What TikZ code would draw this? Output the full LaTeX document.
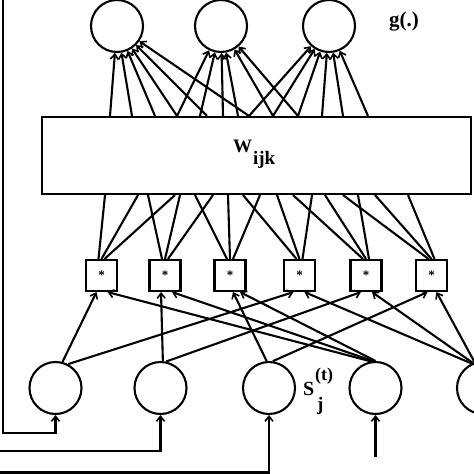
\documentclass[tikz,border=0pt]{standalone}
\usepackage{fontspec}
\setmainfont{Liberation Serif}
\usetikzlibrary{arrows.meta,calc}
\begin{document}
\begin{tikzpicture}[x=1pt,y=-1pt,line width=2.1pt,
  neuron/.style={circle,draw,minimum size=52pt,inner sep=0pt},
  mult/.style={rectangle,draw,minimum size=31pt,inner sep=0pt,font=\fontsize{13}{13}\selectfont\bfseries},
  wbox/.style={rectangle,draw,minimum width=429pt,minimum height=77pt,inner sep=0pt},
  arr/.style={-{Straight Barb[length=5pt,width=8pt,line width=1.6pt]}},
  lbl/.style={font=\fontsize{19}{19}\selectfont\bfseries,inner sep=0pt,anchor=base west}]
\useasboundingbox (0,0) rectangle (474,474);
\clip (0,0) rectangle (474,474);

% weight box
\node[wbox] (W) at (256.5,155.5) {};
% output neurons
\node[neuron] (c1) at (117,26) {};
\node[neuron] (c2) at (221,26) {};
\node[neuron] (c3) at (329,26) {};
% product units
\node[mult] (m1) at (101.5,275.5) {*};
\node[mult] (m2) at (165,275.5) {*};
\node[mult] (m3) at (230,275.5) {*};
\node[mult] (m4) at (299.5,275.5) {*};
\node[mult] (m5) at (366,275.5) {*};
\node[mult] (m6) at (431.5,275.5) {*};
% input neurons
\node[neuron] (b1) at (55.5,388) {};
\node[neuron] (b2) at (160.5,388) {};
\node[neuron] (b3) at (269,388) {};
\node[neuron] (b4) at (375.5,388) {};
\node[neuron] (b5) at (483,388) {};

% W -> outputs
\foreach \x in {110,132,155,177,207,249} \draw[arr] (\x,0 |- W.north) -- (c1);
\foreach \x in {177,200,223,238,273,298} \draw[arr] (\x,0 |- W.north) -- (c2);
\foreach \x in {249,273,298,322,343,368} \draw[arr] (\x,0 |- W.north) -- (c3);

% products -> W
\foreach \i/\a/\b/\c in {1/105/138/175,2/148/180/213,3/195/228/260,4/243/277/312,5/293/325/358,6/343/375/408} {
  \draw ($(m\i.north)+(-3,0)$) -- (\a,0 |- W.south);
  \draw (m\i.north) -- (\b,0 |- W.south);
  \draw ($(m\i.north)+(3,0)$) -- (\c,0 |- W.south);
}

% inputs -> products
\draw[arr] (b1.75) -- ($(m1.south)+(-5,0)$);
\draw[arr] (b4.100) -- ($(m1.south)+(6,0)$);
\draw[arr] (b2.85) -- ($(m2.south)+(-4,0)$);
\draw[arr] (b4.95) -- ($(m2.south)+(7,0)$);
\draw[arr] (b3.95) -- ($(m3.south)+(3,0)$);
\draw[arr] (b4.90) -- ($(m3.south)+(10,0)$);
\draw[arr] (b1.62) -- ($(m4.south)+(-6,0)$);
\draw[arr] (b5.115) -- ($(m4.south)+(5,0)$);
\draw[arr] (b2.78) -- ($(m5.south)+(-5,0)$);
\draw[arr] (b5.112) -- ($(m5.south)+(6,0)$);
\draw[arr] (b3.82) -- ($(m6.south)+(-4,0)$);
\draw[arr] (b5.108) -- ($(m6.south)+(5,0)$);

% external / feedback inputs
\coordinate (f0) at (3,0);
\coordinate (f1) at (3,433);
\coordinate (f2) at (0,451);
\coordinate (f3) at (0,472.5);
\coordinate (f4) at ($(b4.south)+(0,42)$);
\draw[arr] (f0) -- (f1) -| (b1.south);
\draw[arr] (f2) -| (b2.south);
\draw[arr] (f3) -| (b3.south);
\draw[arr] (f4) -- (b4.south);

% labels
\node[lbl,font=\fontsize{21}{21}\selectfont\bfseries] (g) at (388,26) {g(.)};
\node[lbl] (w) at (232,152) {W};
\node[lbl] (ijk) at (252,164) {ijk};
\node[lbl,font=\fontsize{20}{20}\selectfont\bfseries] (s) at (302,395) {S};
\node[lbl,font=\fontsize{18}{18}\selectfont\bfseries] (t) at (314,380) {(t)};
\node[lbl] (j) at (316,410) {j};
\end{tikzpicture}
\end{document}
